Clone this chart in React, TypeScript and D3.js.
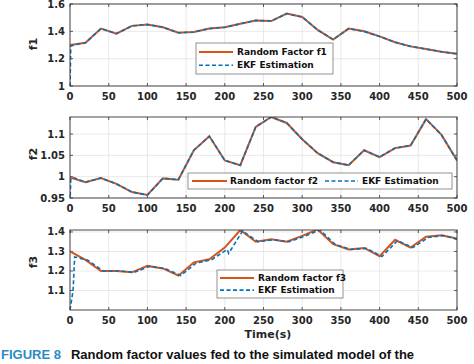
import React from 'react';
import * as d3 from 'd3';

// sample times of the random factors (s)
const times = [0, 20, 40, 60, 80, 100, 120, 140, 160, 180, 200, 220, 240, 260, 280, 300, 320, 340, 360, 380, 400, 420, 440, 460, 480, 500];

const f1Values = [1.30, 1.316, 1.42, 1.383, 1.44, 1.45, 1.43, 1.39, 1.395, 1.42, 1.43, 1.455, 1.48, 1.475, 1.53, 1.505, 1.41, 1.34, 1.42, 1.40, 1.363, 1.32, 1.29, 1.27, 1.25, 1.235];
const f2Values = [0.998, 0.987, 0.997, 0.983, 0.964, 0.957, 0.996, 0.993, 1.062, 1.095, 1.038, 1.027, 1.117, 1.14, 1.126, 1.088, 1.055, 1.034, 1.027, 1.062, 1.046, 1.067, 1.073, 1.135, 1.098, 1.038];
const f3Values = [1.30, 1.257, 1.20, 1.20, 1.193, 1.226, 1.213, 1.176, 1.244, 1.26, 1.32, 1.41, 1.35, 1.362, 1.35, 1.38, 1.413, 1.337, 1.31, 1.318, 1.276, 1.36, 1.32, 1.376, 1.383, 1.366];

// EKF estimates: start-up transient, then tracking
const f1EkfTimes = [0, 1, 5, 20, 40, 60, 80, 100, 120, 140, 160, 180, 200, 220, 240, 260, 280, 300, 320, 340, 360, 380, 400, 420, 440, 460, 480, 500];
const f1EkfValues = [1.0, 1.29, 1.30, 1.316, 1.42, 1.383, 1.44, 1.45, 1.43, 1.39, 1.395, 1.42, 1.43, 1.455, 1.48, 1.475, 1.53, 1.505, 1.41, 1.34, 1.42, 1.40, 1.363, 1.32, 1.29, 1.27, 1.25, 1.235];
const f2EkfTimes = [0, 1, 4, 20, 40, 60, 80, 100, 120, 140, 160, 180, 200, 220, 240, 260, 280, 300, 320, 340, 360, 380, 400, 420, 440, 460, 480, 500];
const f2EkfValues = [0.94, 0.993, 0.998, 0.987, 0.997, 0.983, 0.964, 0.957, 0.996, 0.993, 1.062, 1.095, 1.038, 1.027, 1.117, 1.14, 1.126, 1.088, 1.055, 1.034, 1.027, 1.062, 1.046, 1.067, 1.073, 1.135, 1.098, 1.038];
const f3EkfTimes = [0, 4, 6, 23, 43, 63, 83, 103, 123, 143, 163, 183, 203, 205, 223, 243, 263, 283, 303, 323, 343, 363, 383, 403, 423, 443, 463, 483, 500];
const f3EkfValues = [1.0, 1.1, 1.272, 1.255, 1.20, 1.20, 1.193, 1.224, 1.212, 1.177, 1.24, 1.258, 1.31, 1.29, 1.405, 1.35, 1.36, 1.35, 1.378, 1.41, 1.335, 1.31, 1.316, 1.274, 1.355, 1.32, 1.372, 1.382, 1.362];

const xTicks = [0, 50, 100, 150, 200, 250, 300, 350, 400, 450, 500];
const f1Ticks = [1, 1.2, 1.4, 1.6];
const f2Ticks = [0.95, 1, 1.05, 1.1];
const f3Ticks = [1.1, 1.2, 1.3, 1.4];

const ORANGE = '#d95319';
const BLUE = '#0072bd';
const FONT = '"DejaVu Sans", sans-serif';

const panels = [
  { id: 'f1', top: 4, bottom: 86, domain: [1, 1.6], ticks: f1Ticks, label: 'f1', labelY: 44,
    trueT: times, trueV: f1Values, ekfT: f1EkfTimes, ekfV: f1EkfValues,
    legend: { kind: 'vertical', x: 196, y: 43, w: 137, h: 31, text: 'Random Factor f1' } },
  { id: 'f2', top: 117, bottom: 198, domain: [0.95, 1.14], ticks: f2Ticks, label: 'f2', labelY: 154,
    trueT: times, trueV: f2Values, ekfT: f2EkfTimes, ekfV: f2EkfValues,
    legend: { kind: 'horizontal', x: 188, y: 173, w: 264, h: 16, text: 'Random factor f2' } },
  { id: 'f3', top: 230, bottom: 310, domain: [1.0, 1.41], ticks: f3Ticks, label: 'f3', labelY: 262,
    trueT: times, trueV: f3Values, ekfT: f3EkfTimes, ekfV: f3EkfValues,
    legend: { kind: 'vertical', x: 217, y: 270, w: 126, h: 28, text: 'Random factor f3' } },
];

const left = 70;
const right = 457;

const Panel = ({ p }: { p: any }) => {
  const x = d3.scaleLinear().domain([0, 500]).range([left, right]);
  const y = d3.scaleLinear().domain(p.domain).range([p.bottom, p.top]);
  const line = d3.line<[number, number]>().x(d => x(d[0])).y(d => y(d[1]));
  const trueData = p.trueT.map((t: number, i: number) => [t, p.trueV[i]] as [number, number]);
  const ekfData = p.ekfT.map((t: number, i: number) => [t, p.ekfV[i]] as [number, number]);
  const lg = p.legend;
  const fmt = (v: number) => String(v);

  return (
    <g>
      <defs>
        <clipPath id={`clip-${p.id}`}>
          <rect x={left} y={p.top} width={right - left} height={p.bottom - p.top} />
        </clipPath>
      </defs>
      <rect x={left} y={p.top} width={right - left} height={p.bottom - p.top} fill="#fff" />
      {/* grid */}
      {xTicks.map(t => (
        <line key={'gx' + t} x1={x(t)} x2={x(t)} y1={p.top} y2={p.bottom} stroke="#e3e3e3" strokeWidth={0.8} />
      ))}
      {p.ticks.map((t: number) => (
        <line key={'gy' + t} x1={left} x2={right} y1={y(t)} y2={y(t)} stroke="#e3e3e3" strokeWidth={0.8} />
      ))}
      {/* tick marks */}
      {xTicks.map(t => (
        <g key={'tx' + t}>
          <line x1={x(t)} x2={x(t)} y1={p.bottom} y2={p.bottom - 3} stroke="#333" strokeWidth={0.8} />
          <line x1={x(t)} x2={x(t)} y1={p.top} y2={p.top + 3} stroke="#333" strokeWidth={0.8} />
          <text x={x(t)} y={p.bottom + 10} textAnchor="middle" dominantBaseline="central"
            fontFamily={FONT} fontWeight="bold" fontSize={10} fill="#262626">{t}</text>
        </g>
      ))}
      {p.ticks.map((t: number) => (
        <g key={'ty' + t}>
          <line x1={left} x2={left + 3} y1={y(t)} y2={y(t)} stroke="#333" strokeWidth={0.8} />
          <line x1={right} x2={right - 3} y1={y(t)} y2={y(t)} stroke="#333" strokeWidth={0.8} />
          <text x={left - 5} y={y(t)} textAnchor="end" dominantBaseline="central"
            fontFamily={FONT} fontWeight="bold" fontSize={10} fill="#262626">{fmt(t)}</text>
        </g>
      ))}
      {/* series */}
      <g clipPath={`url(#clip-${p.id})`}>
        <path d={line(trueData) || ''} fill="none" stroke={ORANGE} strokeWidth={2} />
        <path d={line(ekfData) || ''} fill="none" stroke={BLUE} strokeWidth={1.6} strokeDasharray="4,2.5" />
      </g>
      <rect x={left} y={p.top} width={right - left} height={p.bottom - p.top} fill="none" stroke="#333" strokeWidth={0.9} />
      <text transform={`translate(33,${p.labelY}) rotate(-90)`} textAnchor="middle" dominantBaseline="central"
        fontFamily={FONT} fontWeight="bold" fontSize={11} fill="#262626">{p.label}</text>
      {/* legend */}
      <rect x={lg.x} y={lg.y} width={lg.w} height={lg.h} fill="#fff" stroke="#777" strokeWidth={0.8} />
      {lg.kind === 'vertical' ? (
        <g fontFamily={FONT} fontWeight="bold" fontSize={9} fill="#111">
          <line x1={lg.x + 3} x2={lg.x + 37} y1={lg.y + lg.h * 0.29} y2={lg.y + lg.h * 0.29} stroke={ORANGE} strokeWidth={2} />
          <text x={lg.x + 41} y={lg.y + lg.h * 0.29} dominantBaseline="central">{lg.text}</text>
          <line x1={lg.x + 3} x2={lg.x + 37} y1={lg.y + lg.h * 0.72} y2={lg.y + lg.h * 0.72} stroke={BLUE} strokeWidth={1.6} strokeDasharray="4,2.5" />
          <text x={lg.x + 41} y={lg.y + lg.h * 0.72} dominantBaseline="central">EKF Estimation</text>
        </g>
      ) : (
        <g fontFamily={FONT} fontWeight="bold" fontSize={9} fill="#111">
          <line x1={lg.x + 4} x2={lg.x + 39} y1={lg.y + lg.h / 2} y2={lg.y + lg.h / 2} stroke={ORANGE} strokeWidth={2} />
          <text x={lg.x + 42} y={lg.y + lg.h / 2} dominantBaseline="central">{lg.text}</text>
          <line x1={lg.x + 137} x2={lg.x + 170} y1={lg.y + lg.h / 2} y2={lg.y + lg.h / 2} stroke={BLUE} strokeWidth={1.6} strokeDasharray="4,2.5" />
          <text x={lg.x + 174} y={lg.y + lg.h / 2} dominantBaseline="central">EKF Estimation</text>
        </g>
      )}
    </g>
  );
};

export default function App() {
  return (
    <svg width={474} height={364} style={{ position: 'absolute', left: 0, top: 0, background: '#fff' }}>
      <rect width={474} height={364} fill="#fff" />
      {panels.map(p => <Panel key={p.id} p={p} />)}
      <text x={268} y={334} textAnchor="middle" dominantBaseline="central"
        fontFamily={FONT} fontWeight="bold" fontSize={11} fill="#262626">Time(s)</text>
      <text x={1} y={359} fontFamily='"Liberation Sans", Arial, sans-serif' fontWeight="bold" fontSize={13}>
        <tspan fill="#2a8cc4">FIGURE 8</tspan>
        <tspan fill="#111" dx={10}>Random factor values fed to the simulated model of the</tspan>
      </text>
    </svg>
  );
}
